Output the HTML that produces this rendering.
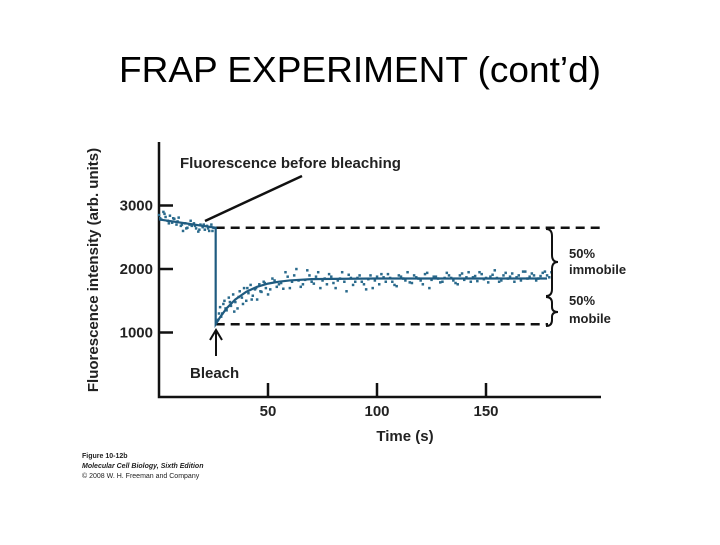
<!DOCTYPE html>
<html><head><meta charset="utf-8"><style>
body{margin:0;background:#fff;width:720px;height:540px;overflow:hidden;font-family:"Liberation Sans",sans-serif}
</style></head><body>
<svg width="720" height="540" xmlns="http://www.w3.org/2000/svg">
<text x="360" y="82" text-anchor="middle" font-size="36" textLength="482" lengthAdjust="spacingAndGlyphs" font-family="Liberation Sans, sans-serif">FRAP EXPERIMENT (cont’d)</text>
<g id="plot"></g>
<text x="180" y="168" font-size="15" font-weight="bold" fill="#222">Fluorescence before bleaching</text>
<line x1="302" y1="176" x2="205" y2="221" stroke="#111" stroke-width="2.5"/>
<text x="190" y="378" font-size="15" font-weight="bold" fill="#222">Bleach</text>
<g><line x1="216" y1="356" x2="216" y2="332" stroke="#111" stroke-width="2"/><path d="M210,340 L216,330 L222,340" fill="none" stroke="#111" stroke-width="2"/></g>
<path d="M546,229 Q552,229 552,236 L552,255 Q552,262 558,262 Q552,262 552,269 L552,289 Q552,296 546,296" fill="none" stroke="#111" stroke-width="2"/>
<path d="M546,297 Q552,297 552,303 L552,307 Q552,312 558,312 Q552,312 552,317 L552,320 Q552,326 546,326" fill="none" stroke="#111" stroke-width="2"/>
<g font-size="13" font-weight="bold" fill="#222">
<text x="569" y="258">50%</text>
<text x="569" y="274">immobile</text>
<text x="569" y="305">50%</text>
<text x="569" y="323">mobile</text>
</g>
<text x="405" y="441" text-anchor="middle" font-size="15" font-weight="bold" fill="#222">Time (s)</text>
<text transform="translate(98,270) rotate(-90)" text-anchor="middle" font-size="15" font-weight="bold" fill="#222">Fluorescence intensity (arb. units)</text>
<g font-size="7" fill="#222" font-family="Liberation Sans, sans-serif">
<text x="82" y="458" font-weight="bold">Figure 10-12b</text>
<text x="82" y="468" font-style="italic" font-weight="bold">Molecular Cell Biology, Sixth Edition</text>
<text x="82" y="478">© 2008 W. H. Freeman and Company</text>
</g>
</svg>
<script>
const yTicks=[1000,2000,3000];
const xTicks=[50,100,150];
const preTimes=[0,1,2,3,4,5,6,7,8,9,10,11,12,13,14,15,16,17,18,19,20,21,22,23,24,25,0.5,2.5,4.5,6.5,8.5,10.5,12.5,14.5,16.5,18.5,20.5,22.5,24.5];
const preVals=[2850,2780,2900,2820,2760,2840,2730,2790,2700,2810,2680,2600,2720,2650,2700,2680,2720,2640,2590,2700,2660,2620,2680,2600,2700,2650,2800,2870,2720,2800,2750,2700,2640,2760,2680,2620,2700,2640,2600];
const postTimes=[27,28,29,30,31,32,33,34,35,36,37,38,39,40,41,42,43,44,45,46,47,48,49,50,52,54,56,58,60,62,64,66,68,70,72,74,76,78,80,82,84,86,88,90,92,94,96,98,100,102,104,106,108,110,112,114,116,118,120,122,124,126,128,130,132,134,136,138,140,142,144,146,148,150,152,154,156,158,160,162,164,166,168,170,172,174,176,178,180];
const postVals=[1200,1400,1300,1500,1350,1550,1420,1600,1480,1380,1650,1550,1700,1500,1620,1750,1580,1680,1520,1760,1640,1800,1700,1600,1850,1720,1780,1950,1700,1900,1820,1760,1980,1800,1880,1700,1850,1920,1780,1820,1950,1650,1860,1800,1900,1760,1840,1700,1880,1920,1800,1860,1750,1900,1850,1950,1780,1870,1820,1920,1700,1880,1850,1800,1940,1860,1780,1900,1830,1950,1870,1810,1920,1860,1880,1980,1800,1900,1850,1930,1870,1820,1960,1880,1900,1850,1940,1900,1950];
const postTimes2=[27.5,28.5,29.5,30.5,32.5,34.5,36.5,38.5,40.5,42.5,44.5,46.5,48.5,51,53,55,57,59,61,63,65,67,69,71,73,75,77,79,81,83,85,87,89,91,93,95,97,99,101,103,105,107,109,111,113,115,117,119,121,123,125,127,129,131,133,135,137,139,141,143,145,147,149,151,153,155,157,159,161,163,165,167,169,171,173,175,177,179];
const postVals2=[1300,1250,1450,1380,1480,1330,1560,1450,1700,1520,1700,1650,1780,1680,1820,1760,1690,1880,1800,2000,1720,1830,1900,1770,1950,1820,1760,1880,1700,1850,1800,1910,1750,1860,1800,1680,1900,1820,1760,1870,1920,1800,1730,1880,1820,1790,1900,1850,1760,1940,1830,1880,1790,1860,1900,1820,1760,1930,1870,1800,1890,1950,1840,1790,1910,1860,1820,1940,1880,1800,1900,1960,1850,1930,1820,1890,1960,1870];
const fitTimes=[0,26,26,28,31,35,40,45,50,55,60,70,80,100,130,160,178];
const fitVals=[2780,2650,1130,1240,1380,1520,1640,1720,1770,1800,1820,1840,1845,1850,1850,1850,1850];
const X0=159,PXS=2.18,Y0=396,PXV=0.0635;
const xs=t=>X0+t*PXS, ys=v=>Y0-v*PXV;
const NS='http://www.w3.org/2000/svg';
const g=document.getElementById('plot');
function mk(tag,attrs,parent){const e=document.createElementNS(NS,tag);for(const k in attrs)e.setAttribute(k,attrs[k]);(parent||g).appendChild(e);return e;}
let ax=mk('path',{d:`M${X0},142 L${X0},397 L601,397`,fill:'none',stroke:'#111','stroke-width':2.5});


yTicks.forEach(v=>{
 let l=mk('line',{x1:X0,x2:173,y1:ys(v),y2:ys(v),stroke:'#111','stroke-width':2.5});
 
 
 let t=mk('text',{x:153,y:ys(v)+5,'text-anchor':'end','font-size':15,'font-weight':'bold',fill:'#222'});
 t.textContent=v;
 
 
});
xTicks.forEach(v=>{
 let l=mk('line',{x1:xs(v),x2:xs(v),y1:397,y2:383,stroke:'#111','stroke-width':2.5});
 
 
 let t=mk('text',{x:xs(v),y:416,'text-anchor':'middle','font-size':15,'font-weight':'bold',fill:'#222'});
 t.textContent=v;
 
 
});
const preLevel=fitVals[1], bleachLevel=fitVals[2];
let d1=mk('line',{x1:xs(26),x2:601,y1:ys(preLevel),y2:ys(preLevel),stroke:'#111','stroke-width':2.5,'stroke-dasharray':'9,6'});


let d2=mk('line',{x1:xs(26),x2:548,y1:ys(bleachLevel),y2:ys(bleachLevel),stroke:'#111','stroke-width':2.5,'stroke-dasharray':'9,6'});


const all=preTimes.map((t,i)=>[t,preVals[i]]).concat(postTimes.map((t,i)=>[t,postVals[i]])).concat(postTimes2.map((t,i)=>[t,postVals2[i]]));
all.forEach(([t,v])=>{
 let c=mk('rect',{x:xs(t)-1.2,y:ys(v)-1.2,width:2.5,height:2.5,fill:'#2a6a8c'});
 
 
});
let fit=mk('polyline',{points:fitTimes.map((t,i)=>xs(t)+','+ys(fitVals[i])).join(' '),fill:'none',stroke:'#1f5b80','stroke-width':2.2});


</script>
</body></html>
